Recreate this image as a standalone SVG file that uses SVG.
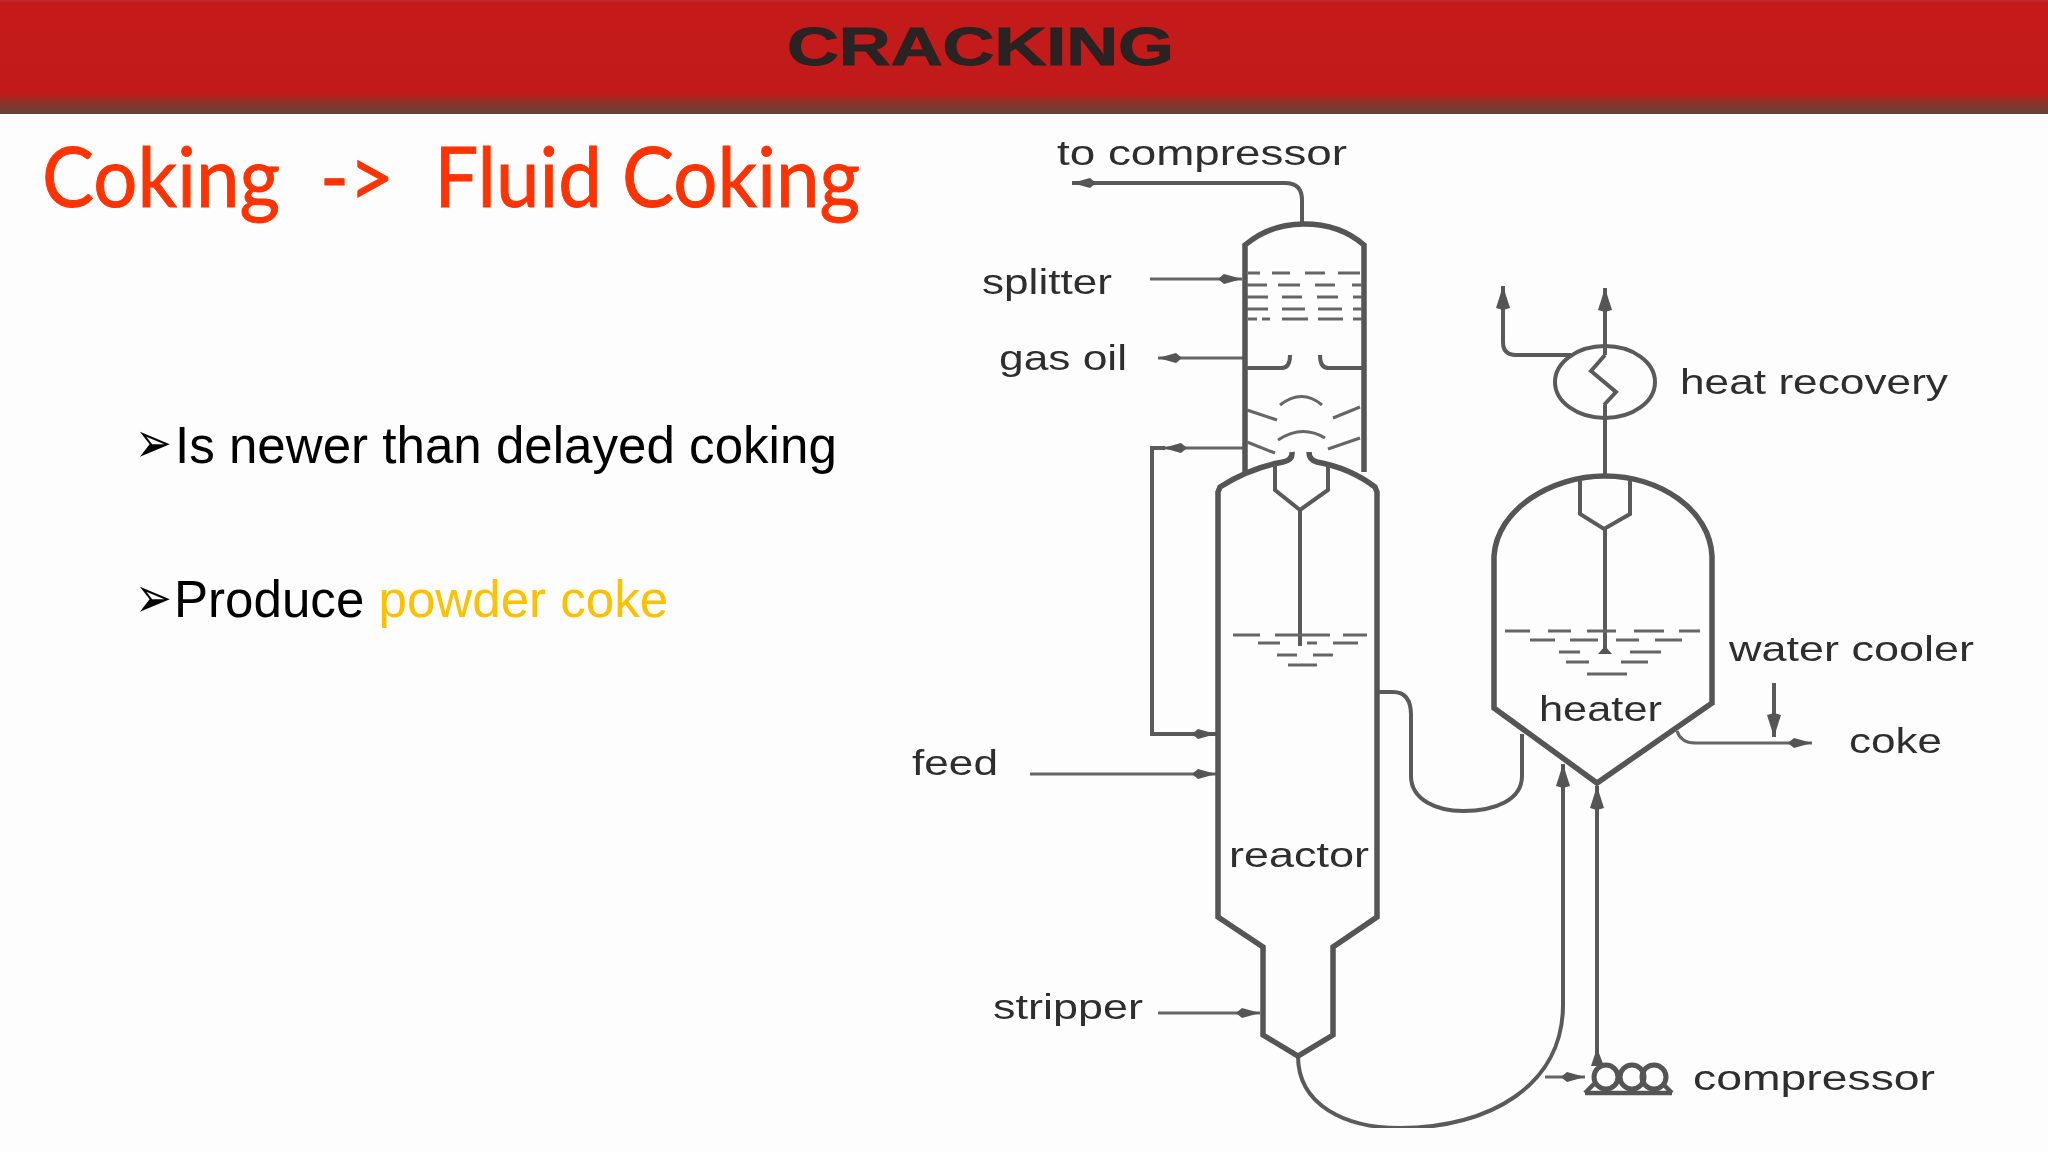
<svg xmlns="http://www.w3.org/2000/svg" width="2048" height="1152" viewBox="0 0 2048 1152">
<style>
.wall{fill:none;stroke:#555;stroke-width:5.5;stroke-linejoin:miter}
.mid{fill:none;stroke:#5a5a5a;stroke-width:4}
.thin{fill:none;stroke:#666;stroke-width:3}
.lbl{font-family:"Liberation Sans",Arial,sans-serif;font-size:35px;fill:#2e2e2e}
.bul{font-family:"Liberation Sans",Arial,sans-serif;font-size:51.1px;fill:#000}
.sym{font-family:"DejaVu Sans",sans-serif;font-size:42px;fill:#000}
.ah{fill:#555}
</style>
<defs>
<linearGradient id="bar" x1="0" y1="0" x2="0" y2="1">
<stop offset="0" stop-color="#bf2a2c"/><stop offset="0.03" stop-color="#c41a1a"/><stop offset="0.82" stop-color="#c21a1a"/><stop offset="0.9" stop-color="#8c3226"/><stop offset="1" stop-color="#62443a"/>
</linearGradient>
<filter id="soft" x="0" y="0" width="100%" height="100%"><feGaussianBlur stdDeviation="0.7"/></filter>
<marker id="ar" markerUnits="userSpaceOnUse" markerWidth="28" markerHeight="14" refX="24" refY="7" orient="auto"><path class="ah" d="M0,7 L6,2 L24,7 L6,12 Z"/></marker>
<marker id="au" markerUnits="userSpaceOnUse" markerWidth="28" markerHeight="20" refX="24" refY="10" orient="auto"><path class="ah" d="M0,10 L2,3 L24,10 L2,17 Z"/></marker>
</defs>
<rect width="2048" height="1152" fill="#fdfdfe"/>
<g id="header">
<rect width="2048" height="114" fill="url(#bar)"/>
<text x="787" y="65" textLength="387" lengthAdjust="spacingAndGlyphs" font-family="Liberation Sans, Arial, sans-serif" font-weight="700" font-size="54" fill="#2a2323" stroke="#2a2323" stroke-width="1">CRACKING</text>
</g>
<g id="slide-text">
<text x="42" y="207" textLength="818" lengthAdjust="spacingAndGlyphs" font-family="Lato, sans-serif" font-size="84" fill="#ff3300" stroke="#ff3300" stroke-width="0.9" style="white-space:pre">Coking  -&gt;  Fluid Coking</text>
<text class="sym" transform="translate(135,462) scale(1.05,1.35)">➢</text>
<text class="bul" x="175" y="463">Is newer than delayed coking</text>
<text class="sym" transform="translate(135,617) scale(1.05,1.35)">➢</text>
<text class="bul" x="174" y="617">Produce <tspan fill="#ffc000">powder coke</tspan></text>
</g>
<g id="diagram" filter="url(#soft)">
<g id="connectors">
<path class="mid" marker-end="url(#ar)" d="M1302,224 V200 Q1302,183 1285,183 H1072"/>
<path class="thin" marker-end="url(#ar)" d="M1150,279 H1242"/>
<path class="thin" marker-end="url(#ar)" d="M1243,358 H1158"/>
<path class="thin" marker-end="url(#ar)" d="M1243,448 H1163"/>
<path class="mid" marker-end="url(#ar)" d="M1165,448 H1152 V734 H1216"/>
<path class="thin" marker-end="url(#ar)" d="M1030,774 H1216"/>
<path class="thin" marker-end="url(#ar)" d="M1158,1013 H1260"/>
<path class="mid" d="M1378,692 H1393 Q1411,692 1411,715 V776 C1411,800 1437,811 1463,811 C1495,811 1522,800 1522,776 V734"/>
<path class="mid" marker-end="url(#au)" d="M1298,1056 C1298,1105 1345,1128 1400,1128 C1490,1128 1563,1085 1563,1005 V764"/>
<path class="mid" marker-end="url(#au)" d="M1597,1066 V786"/>
<path class="ah" d="M1591,1066 L1597,1048 L1604,1066 Z"/>
<path class="thin" marker-end="url(#ar)" d="M1545,1077 H1585"/>
<path class="mid" d="M1605,476 V405"/>
<path class="mid" marker-end="url(#au)" d="M1605,355 V288"/>
<path class="mid" marker-end="url(#au)" d="M1571,355 H1516 Q1503,355 1503,342 V286"/>
<path class="thin" marker-end="url(#ar)" d="M1677,731 Q1681,743 1695,743 H1812"/>
<path class="mid" marker-end="url(#au)" d="M1774,683 V737"/>
</g>
<g id="splitter">
<path class="wall" d="M1245,472 V245 Q1270,224 1304,224 Q1340,224 1364,245 V472"/>
<path class="thin" d="M1248,273H1260M1272,273H1290M1305,273H1325M1338,273H1360M1247,285H1267M1278,285H1300M1315,285H1335M1352,285H1362M1247,297H1268M1282,297H1302M1317,297H1338M1353,297H1362M1247,309H1268M1282,309H1305M1318,309H1342M1353,309H1362M1248,319H1257M1262,319H1270M1282,319H1308M1318,319H1343M1353,319H1362"/>
<path class="mid" d="M1245,368 H1282 Q1290,368 1290,355 M1362,368 H1328 Q1320,368 1320,355"/>
<path class="thin" d="M1280,405 Q1302,388 1322,405 M1278,440 Q1302,424 1325,438 M1247,410 L1277,420 M1333,418 L1360,407 M1247,442 L1275,453 M1328,449 L1360,438"/>
<text class="lbl" x="1057" y="165" textLength="290" lengthAdjust="spacingAndGlyphs">to compressor</text>
<text class="lbl" x="982" y="294" textLength="130" lengthAdjust="spacingAndGlyphs">splitter</text>
<text class="lbl" x="999" y="370" textLength="128" lengthAdjust="spacingAndGlyphs">gas oil</text>
</g>
<g id="reactor">
<path class="wall" d="M1292,452 Q1293,460 1283,462 Q1250,468 1220,487 L1218,492 V917 L1263,947 V1035 L1298,1056 L1333,1035 V947 L1377,917 V492 L1375,487 Q1350,468 1317,462 Q1309,460 1309,452"/>
<path class="mid" d="M1275,465 V490 L1300,510 L1328,490 V465 M1300,510 V646"/>
<path class="thin" d="M1233,635H1260M1275,635H1330M1343,635H1367M1258,643H1280M1307,643H1317M1333,643H1358M1277,655H1297M1313,655H1333M1288,665H1317"/>
<text class="lbl" x="1229" y="867" textLength="140" lengthAdjust="spacingAndGlyphs">reactor</text>
<text class="lbl" x="912" y="775" textLength="86" lengthAdjust="spacingAndGlyphs">feed</text>
<text class="lbl" x="993" y="1019" textLength="150" lengthAdjust="spacingAndGlyphs">stripper</text>
</g>
<g id="heater">
<path class="wall" d="M1494,708 V556 C1497,510 1550,476 1605,476 C1660,476 1710,510 1712,556 V703 L1597,783 Z"/>
<path class="mid" d="M1580,481 V514 L1604,529 L1630,514 V481 M1605,529 V651"/>
<path class="ah" d="M1598,654 L1605,646 L1612,654 Z"/>
<path class="thin" d="M1505,631H1530M1548,631H1571M1587,631H1616M1634,631H1664M1679,631H1700M1530,640H1555M1570,640H1598M1616,640H1639M1655,640H1682M1559,652H1580M1630,652H1661M1566,662H1589M1621,662H1648M1587,674H1627"/>
<text class="lbl" x="1539" y="721" textLength="123" lengthAdjust="spacingAndGlyphs">heater</text>
<text class="lbl" x="1729" y="661" textLength="245" lengthAdjust="spacingAndGlyphs">water cooler</text>
<text class="lbl" x="1849" y="753" textLength="93" lengthAdjust="spacingAndGlyphs">coke</text>
</g>
<g id="heat-recovery">
<ellipse class="mid" cx="1605" cy="382" rx="50" ry="36"/>
<path class="mid" d="M1605,355 L1591,371 L1616,392 L1604,405"/>
<text class="lbl" x="1680" y="394" textLength="268" lengthAdjust="spacingAndGlyphs">heat recovery</text>
</g>
<g id="compressor">
<circle class="wall" style="stroke-width:5" cx="1606" cy="1077" r="12"/>
<circle class="wall" style="stroke-width:5" cx="1632" cy="1077" r="12"/>
<circle class="wall" style="stroke-width:5" cx="1654" cy="1077" r="12"/>
<path class="wall" style="stroke-width:4.5" d="M1585,1093 H1672 M1585,1093 L1594,1084 M1672,1093 L1663,1084"/>
<text class="lbl" x="1693" y="1090" textLength="242" lengthAdjust="spacingAndGlyphs">compressor</text>
</g>
</g>
</svg>
